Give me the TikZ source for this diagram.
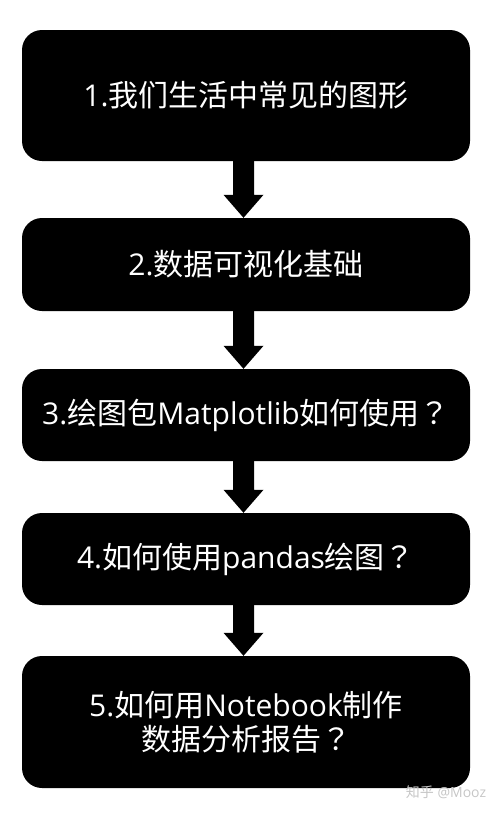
\documentclass[tikz,border=0pt]{standalone}
\usepackage{fontspec}
\setmainfont{Open Sans}
\newfontfamily\cjk{Noto Sans CJK SC}
\newfontfamily\cjkq{Noto Sans CJK TC}
\usetikzlibrary{calc}
\tikzset{
  stepbox/.style={fill=black, rounded corners=20pt, minimum width=448pt,
    text=white, align=center, inner sep=0pt,
    font=\fontsize{30pt}{34pt}\selectfont},
  wmark/.style={text=gray!45, inner sep=0pt, font=\fontsize{14pt}{16pt}\selectfont}
}
\newcommand\qm{{\cjkq ？}}
\newcommand\flowarrow[2]{%
  \fill ($(#1.south)+(-13,0)$) -- ($(#2.north)+(-13,-23)$) -- ($(#2.north)+(-22.5,-23)$)
    -- ($(#2.north)+(-2.5,0)$) -- ($(#2.north)+(17.5,-23)$) -- ($(#2.north)+(8,-23)$)
    -- ($(#1.south)+(8,0)$) -- cycle;}
\begin{document}
\begin{tikzpicture}[x=1pt,y=-1pt]
\useasboundingbox (0,0) rectangle (500,814);
\node[stepbox, minimum height=131pt] (b1) at (246,95.5) {1.{\cjk 我们生活中常见的图形}};
\node[stepbox, minimum height=93pt] (b2) at (246,264.5) {2.{\cjk 数据可视化基础}};
\node[stepbox, minimum height=92pt] (b3) at (246,415) {3.{\cjk 绘图包}Matplotlib{\cjk 如何使用}\qm};
\node[stepbox, minimum height=92pt] (b4) at (246,559) {4.{\cjk 如何使用}pandas{\cjk 绘图}\qm};
\node[stepbox, minimum height=132pt] (b5) at (246,722) {5.{\cjk 如何用}Notebook{\cjk 制作}\\{\cjk 数据分析报告}\qm};
\flowarrow{b1}{b2}
\flowarrow{b2}{b3}
\flowarrow{b3}{b4}
\flowarrow{b4}{b5}
\node[wmark] (wm) at (446,792) {{\cjk 知乎} @Mooz};
\end{tikzpicture}
\end{document}
